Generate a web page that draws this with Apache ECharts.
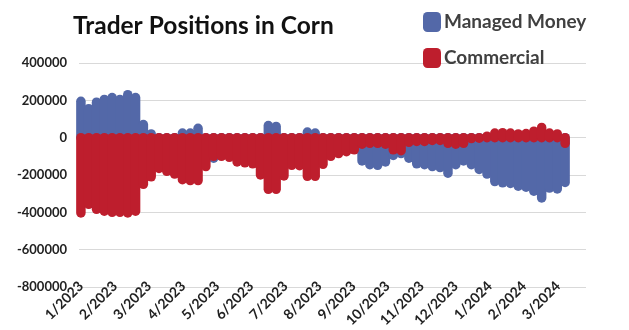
<!DOCTYPE html>
<html><head><meta charset="utf-8">
<script src="https://cdn.jsdelivr.net/npm/echarts@6/dist/echarts.min.js"></script>
<style>html,body{margin:0;padding:0;background:#fff}#c{width:629px;height:330px}</style>
</head><body><div id="c"></div>
<script>
const firstWeek = '2023-01-03';
const monthLabels = ['1/2023','2/2023','3/2023','4/2023','5/2023','6/2023','7/2023','8/2023','9/2023','10/2023','11/2023','12/2023','1/2024','2/2024','3/2024'];
const managedMoney = [
 195000,155000,190000,205000,215000,205000,230000,215000,70000,20000,
 -10000,-20000,-10000,25000,25000,50000,-40000,-110000,-90000,-90000,
 -95000,-95000,-50000,-20000,65000,60000,-30000,-40000,-20000,30000,
 25000,-40000,-60000,-70000,-70000,-60000,-125000,-145000,-148000,-130000,
 -95000,-85000,-110000,-140000,-145000,-155000,-160000,-190000,-145000,-125000,
 -145000,-170000,-195000,-235000,-242000,-245000,-260000,-265000,-287000,-323000,
 -270000,-275000,-240000];
const commercial = [
 -403000,-357000,-384000,-394000,-400000,-400000,-403000,-394000,-250000,-210000,
 -165000,-180000,-195000,-225000,-230000,-230000,-155000,-100000,-100000,-105000,
 -130000,-135000,-140000,-200000,-277000,-277000,-205000,-148000,-150000,-207000,
 -207000,-143000,-100000,-85000,-75000,-65000,-35000,-30000,-30000,-35000,
 -65000,-70000,-25000,-20000,-20000,-15000,-15000,-30000,-35000,-30000,
 -5000,-3000,8000,25000,27000,25000,20000,22000,35000,55000,
 25000,20000,-30000];
const yMin = -800000, yMax = 400000, yStep = 200000;

const weeks = [];
const d0 = new Date(firstWeek + 'T00:00:00Z');
for (let i = 0; i < managedMoney.length; i++) {
  const d = new Date(d0.getTime() + i * 7 * 86400000);
  weeks.push(d.toISOString().slice(0, 10));
}

const FONT = 'Lato';
const BLUE = '#5368a8', RED = '#be1e2d';
const CAP_W = 9.5;

function roundBar(params, api) {
  const i = api.value(0), v = api.value(1);
  const p0 = api.coord([i, 0]);
  const p1 = api.coord([i, v]);
  return {
    type: 'line',
    shape: {x1: p0[0], y1: p0[1], x2: p1[0], y2: p1[1]},
    style: {stroke: api.visual('color'), lineWidth: CAP_W, lineCap: 'round'}
  };
}

const chart = echarts.init(document.getElementById('c'), null, {renderer: 'canvas'});
chart.setOption({
  animation: false,
  backgroundColor: '#fff',
  title: {
    text: 'Trader Positions in Corn', left: 73, top: 14, padding: 0,
    textStyle: {fontFamily: FONT, fontWeight: 'bold', fontSize: 24.5, color: '#111'}
  },
  legend: {
    orient: 'vertical', left: 423, top: 12, padding: 0,
    itemWidth: 18, itemHeight: 20, itemGap: 16, icon: 'roundRect',
    textStyle: {fontFamily: FONT, fontWeight: 'bold', fontSize: 19, color: '#404040', padding: [3,0,0,-2]},
    data: ['Managed Money', 'Commercial']
  },
  grid: [
    {left: 79, right: 43, top: 63, bottom: 43},
    {left: 77, width: 492, top: 63, bottom: 43},
    {left: 81, width: 477, top: 63, bottom: 27}
  ],
  xAxis: [
    {gridIndex: 0, type: 'category', data: [''], show: false},
    {gridIndex: 1, type: 'category', data: weeks, show: false},
    {gridIndex: 2, type: 'category', data: monthLabels, boundaryGap: false, position: 'bottom',
     axisLine: {show: false, onZero: false}, axisTick: {show: false},
     axisLabel: {rotate: 45, interval: 0, margin: 8, fontFamily: FONT, fontWeight: 'bold', fontSize: 14, color: '#222'}}
  ],
  yAxis: [
    {gridIndex: 0, type: 'value', min: yMin, max: yMax, interval: yStep,
     axisLine: {show: false}, axisTick: {show: false},
     axisLabel: {margin: 12, fontFamily: FONT, fontWeight: 'bold', fontSize: 13, color: '#222',
       formatter: v => String(v)},
     splitLine: {lineStyle: {color: '#d9d9d9', width: 1}}},
    {gridIndex: 1, type: 'value', min: yMin, max: yMax, interval: yStep, show: false, splitLine: {show: false}},
    {gridIndex: 2, type: 'value', min: yMin, max: yMax, interval: yStep, show: false, splitLine: {show: false}}
  ],
  series: [
    {name: 'Managed Money', type: 'custom', xAxisIndex: 1, yAxisIndex: 1,
     data: managedMoney.map((v, i) => [i, v]), encode: {x: 0, y: 1},
     itemStyle: {color: BLUE}, renderItem: roundBar},
    {name: 'Commercial', type: 'custom', xAxisIndex: 1, yAxisIndex: 1,
     data: commercial.map((v, i) => [i, v]), encode: {x: 0, y: 1},
     itemStyle: {color: RED}, renderItem: roundBar}
  ]
});
</script>
</body></html>
